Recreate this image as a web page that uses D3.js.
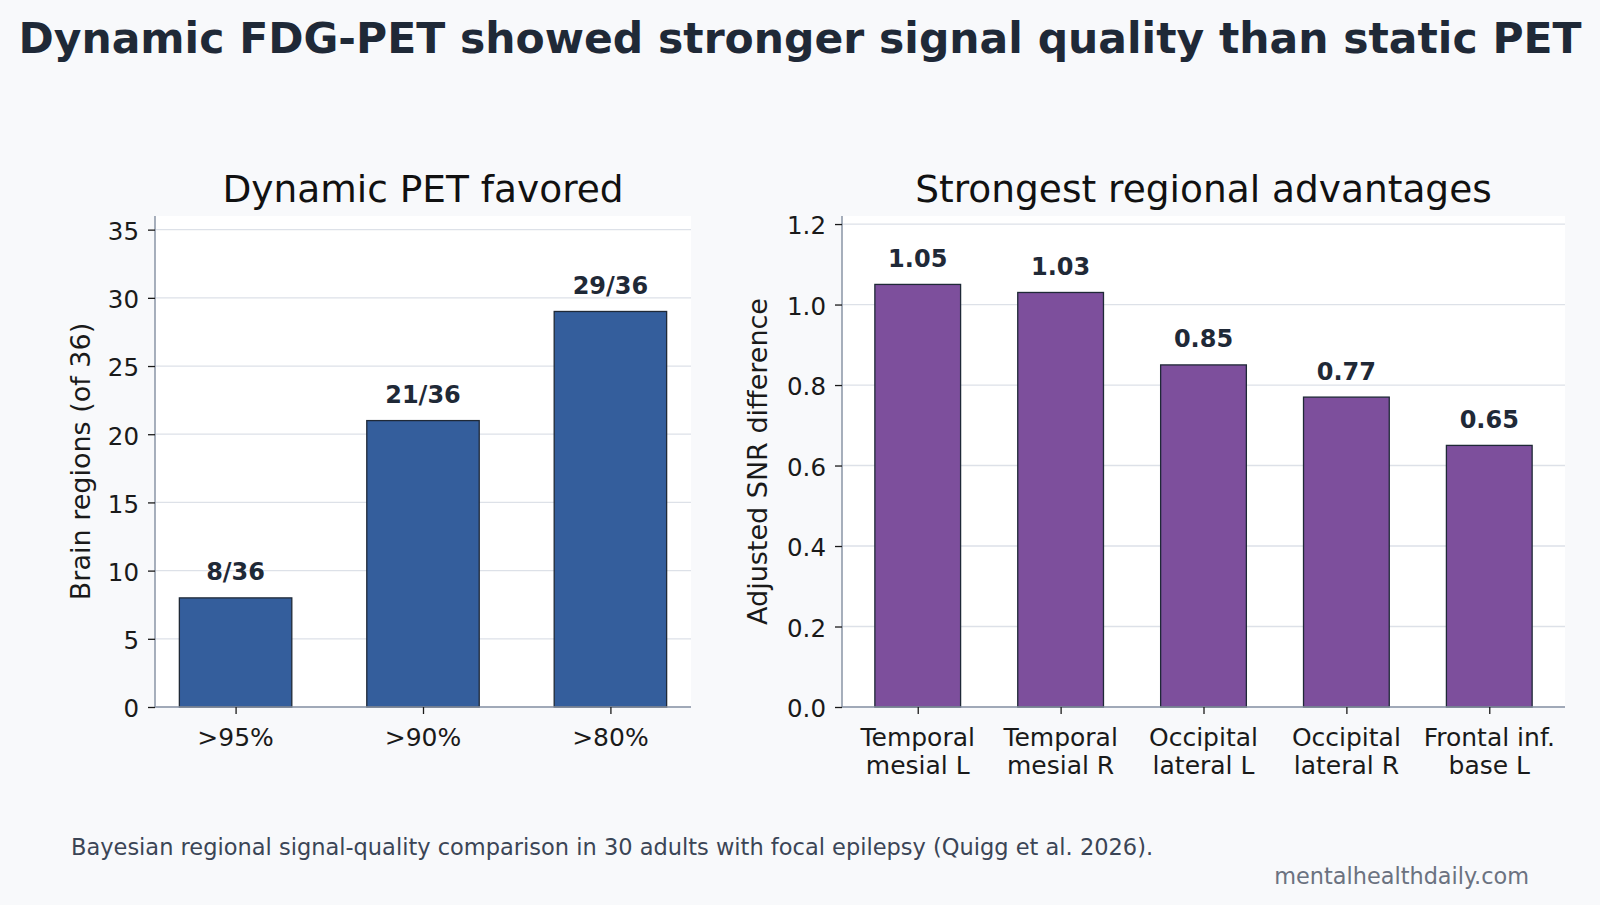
<!DOCTYPE html>
<html>
<head>
<meta charset="utf-8">
<script src="https://cdn.jsdelivr.net/npm/d3@7"></script>
<style>
  body { margin: 0; background: #f8f9fb; }
  svg { display: block; font-family: "DejaVu Sans", sans-serif; }
  .tick text { fill: #1a1a1a; }
</style>
</head>
<body>
<div id="chart"></div>
<script>
// chart data
const thresholds = [">95%", ">90%", ">80%"];
const regionCounts = [8, 21, 29];
const regionLabels = ["8/36", "21/36", "29/36"];
const regions = [["Temporal", "mesial L"], ["Temporal", "mesial R"], ["Occipital", "lateral L"], ["Occipital", "lateral R"], ["Frontal inf.", "base L"]];
const snrDiff = [1.05, 1.03, 0.85, 0.77, 0.65];
const countTicks = [0, 5, 10, 15, 20, 25, 30, 35];
const snrTicks = [0, 0.2, 0.4, 0.6, 0.8, 1.0, 1.2];

const W = 1600, H = 905;
const svg = d3.select("#chart").append("svg").attr("width", W).attr("height", H);
svg.append("rect").attr("width", W).attr("height", H).attr("fill", "#f8f9fb");

svg.append("text")
    .attr("x", 800).attr("y", 53)
    .attr("text-anchor", "middle")
    .attr("font-size", 42.5).attr("font-weight", "bold")
    .attr("fill", "#1f2937")
    .text("Dynamic FDG-PET showed stronger signal quality than static PET");

// draw one bar panel
function panel(opts) {
    const top = 216, bottom = 707;
    const g = svg.append("g");
    const n = opts.values.length;

    // bars of width 0.6 with 5% margins, like matplotlib
    const x = d3.scaleLinear().domain([-0.3 - 0.05 * (n - 0.4), n - 0.7 + 0.05 * (n - 0.4)]).range([opts.left, opts.right]);
    const y = d3.scaleLinear().domain(opts.yDomain).range([bottom, top]);

    g.append("rect")
        .attr("x", opts.left).attr("y", top)
        .attr("width", opts.right - opts.left).attr("height", bottom - top)
        .attr("fill", "#ffffff");

    // grid
    g.selectAll(".grid").data(opts.ticks).enter().append("line")
        .attr("x1", opts.left).attr("x2", opts.right)
        .attr("y1", d => y(d)).attr("y2", d => y(d))
        .attr("stroke", "#dde1e8").attr("stroke-width", 1.3);

    const bw = x(0.6) - x(0);
    g.selectAll(".bar").data(opts.values).enter().append("rect")
        .attr("x", (d, i) => x(i) - bw / 2)
        .attr("y", d => y(d))
        .attr("width", bw)
        .attr("height", d => bottom - y(d))
        .attr("fill", opts.color)
        .attr("stroke", "#1f2937").attr("stroke-width", 1.3);

    g.selectAll(".lbl").data(opts.values).enter().append("text")
        .attr("x", (d, i) => x(i))
        .attr("y", d => y(d) - 17.5)
        .attr("text-anchor", "middle")
        .attr("font-size", 24).attr("font-weight", "bold")
        .attr("fill", "#1f2937")
        .text((d, i) => opts.labels[i]);

    // axes
    const yAxis = d3.axisLeft(y).tickValues(opts.ticks).tickFormat(opts.fmt).tickSize(7).tickPadding(9);
    const ya = g.append("g").attr("transform", `translate(${opts.left},0)`).call(yAxis);
    ya.select(".domain").attr("d", `M0,${top}V${bottom}`);
    ya.selectAll(".tick text").attr("dy", "0.4em");

    const xAxis = d3.axisBottom(x).tickValues(d3.range(n)).tickFormat("").tickSize(7);
    const xa = g.append("g").attr("transform", `translate(0,${bottom})`).call(xAxis);
    xa.select(".domain").attr("d", `M${opts.left},0H${opts.right}`);

    [ya, xa].forEach(a => {
        a.select(".domain").attr("stroke", "#8a94a6").attr("stroke-width", 1.5);
        a.selectAll(".tick line").attr("stroke", "#1a1a1a").attr("stroke-width", 1.3);
        a.selectAll(".tick text").attr("font-size", 24.5).attr("font-family", "DejaVu Sans");
    });

    opts.cats.forEach((c, i) => {
        const lines = Array.isArray(c) ? c : [c];
        const t = g.append("text")
            .attr("x", x(i)).attr("y", 746)
            .attr("text-anchor", "middle")
            .attr("font-size", 25).attr("fill", "#1a1a1a");
        lines.forEach((l, j) => t.append("tspan").attr("x", x(i)).attr("dy", j ? 28 : 0).text(l));
    });

    g.append("text")
        .attr("transform", `translate(${opts.ylabX},${(top + bottom) / 2}) rotate(-90)`)
        .attr("text-anchor", "middle")
        .attr("font-size", 27).attr("fill", "#1a1a1a")
        .text(opts.ylabel);

    g.append("text")
        .attr("x", (opts.left + opts.right) / 2).attr("y", 202)
        .attr("text-anchor", "middle")
        .attr("font-size", 37.5).attr("fill", "#111111")
        .text(opts.title);
}

panel({
    left: 155, right: 691,
    values: regionCounts, labels: regionLabels, cats: thresholds,
    yDomain: [0, 36], ticks: countTicks, fmt: d3.format("d"),
    color: "#345e9c", title: "Dynamic PET favored",
    ylabel: "Brain regions (of 36)", ylabX: 90
});

panel({
    left: 842, right: 1565,
    values: snrDiff, labels: snrDiff.map(d3.format(".2f")), cats: regions,
    yDomain: [0, 1.22], ticks: snrTicks, fmt: d3.format(".1f"),
    color: "#7d4f9c", title: "Strongest regional advantages",
    ylabel: "Adjusted SNR difference", ylabX: 767
});

svg.append("text")
    .attr("x", 71).attr("y", 855)
    .attr("font-size", 22.5).attr("fill", "#3b4556")
    .text("Bayesian regional signal-quality comparison in 30 adults with focal epilepsy (Quigg et al. 2026).");

svg.append("text")
    .attr("x", 1529).attr("y", 884)
    .attr("text-anchor", "end")
    .attr("font-size", 22.4).attr("fill", "#6b7280")
    .text("mentalhealthdaily.com");
</script>
</body>
</html>
